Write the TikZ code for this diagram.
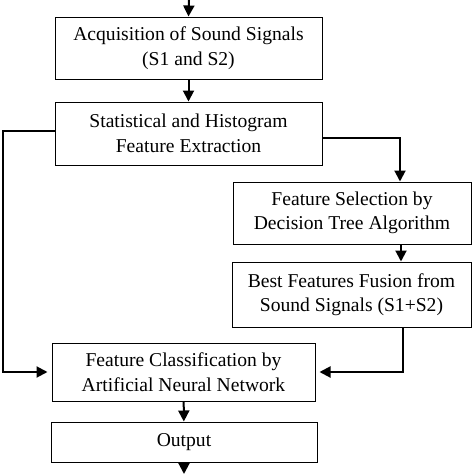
\documentclass[tikz,border=0pt]{standalone}
\usepackage{fontspec}
\setmainfont{Liberation Serif}
\usetikzlibrary{arrows.meta}

\begin{document}
\begin{tikzpicture}[x=1pt,y=1pt,yscale=-1,xscale=1,
  stagebox/.style={draw, line width=1pt, inner sep=0pt, align=center,
    font=\fontsize{19.6}{24.5}\selectfont},
  flow/.style={line width=2pt, -{Triangle[length=11pt,width=11pt]}}]
\useasboundingbox (0,0) rectangle (474,474);

%Shape: Rectangle [acquisition]
\node[stagebox, minimum width=267pt, minimum height=62pt] (acq) at (188.5,48) {Acquisition of Sound Signals\\(S1 and S2)};
%Shape: Rectangle [extraction]
\node[stagebox, minimum width=267pt, minimum height=63pt] (ext) at (188.5,133.5) {Statistical and Histogram\\Feature Extraction};
%Shape: Rectangle [selection]
\node[stagebox, minimum width=238pt, minimum height=62pt] (sel) at (352,213) {Feature Selection by\\Decision Tree Algorithm};
%Shape: Rectangle [fusion]
\node[stagebox, minimum width=239pt, minimum height=65pt] (fus) at (351.5,294.5) {Best Features Fusion from\\Sound Signals (S1+S2)};
%Shape: Rectangle [classification]
\node[stagebox, minimum width=263pt, minimum height=58pt] (cls) at (183.5,372) {Feature Classification by\\Artificial Neural Network};
%Shape: Rectangle [output]
\node[stagebox, minimum width=266pt, minimum height=40pt] (out) at (184,442) {Output};

%Free ends
\coordinate (in) at (189,0);
\coordinate (end) at (184,474);

%Straight Lines
\draw[flow] (in) -- (acq.north);
\draw[flow] (acq) -- (ext);
\draw[flow] ([yshift=4.5pt]ext.east) -| ([xshift=48pt]sel.north);
\draw[flow] ([xshift=49pt]sel.south) -- ([xshift=49.5pt]fus.north);
\draw[flow] ([xshift=51.5pt]fus.south) |- ([xshift=4pt]cls.east);
\draw[flow] ([yshift=-2.5pt]ext.west) -- ++(-52,0) |- ([xshift=-4pt]cls.west);
\draw[flow] (cls) -- (out);
\draw[flow] (out) -- (end);

\end{tikzpicture}
\end{document}
